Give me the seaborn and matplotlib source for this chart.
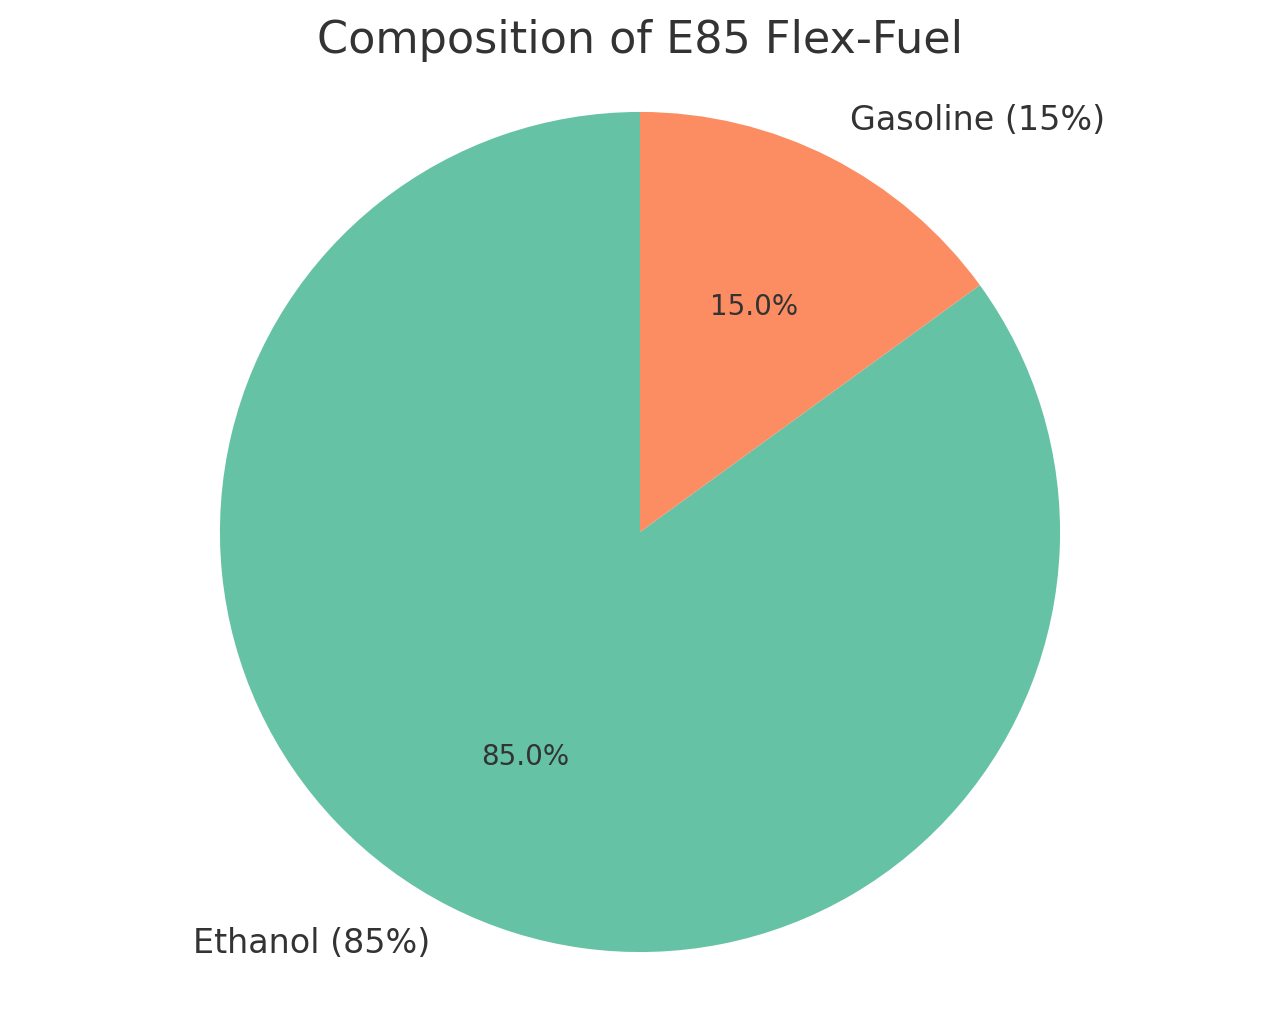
import matplotlib

matplotlib.use("Agg")
import matplotlib.pyplot as plt  # noqa: E402
import seaborn as sns  # noqa: E402

components = ["Ethanol", "Gasoline"]
shares = [85, 15]
labels = [f"{c} ({s}%)" for c, s in zip(components, shares)]


def main() -> None:
    sns.set_theme(style="white")
    plt.rcParams["text.color"] = "#333333"
    colors = sns.color_palette("Set2", len(shares))

    fig = plt.figure(figsize=(12.8, 10.14), dpi=100)
    # axes box chosen so the pie radius lands at ~420 px, centred mid-figure
    ax = fig.add_axes([0.0, 0.0118, 1.0, 0.9271])
    _, texts, autotexts = ax.pie(
        shares,
        labels=labels,
        colors=colors,
        autopct="%1.1f%%",
        startangle=90,
        wedgeprops={"linewidth": 0},
        textprops={"fontsize": 24, "color": "#333333"},
    )
    for t in autotexts:
        t.set_fontsize(20)
    ax.set_aspect("equal", adjustable="datalim")
    ax.set_ylim(-1.119, 1.119)
    ax.set_title("Composition of E85 Flex-Fuel", fontsize=32, color="#333333", pad=4)
    fig.savefig("out.png", dpi=100)
    plt.close(fig)


if __name__ == "__main__":
    main()
